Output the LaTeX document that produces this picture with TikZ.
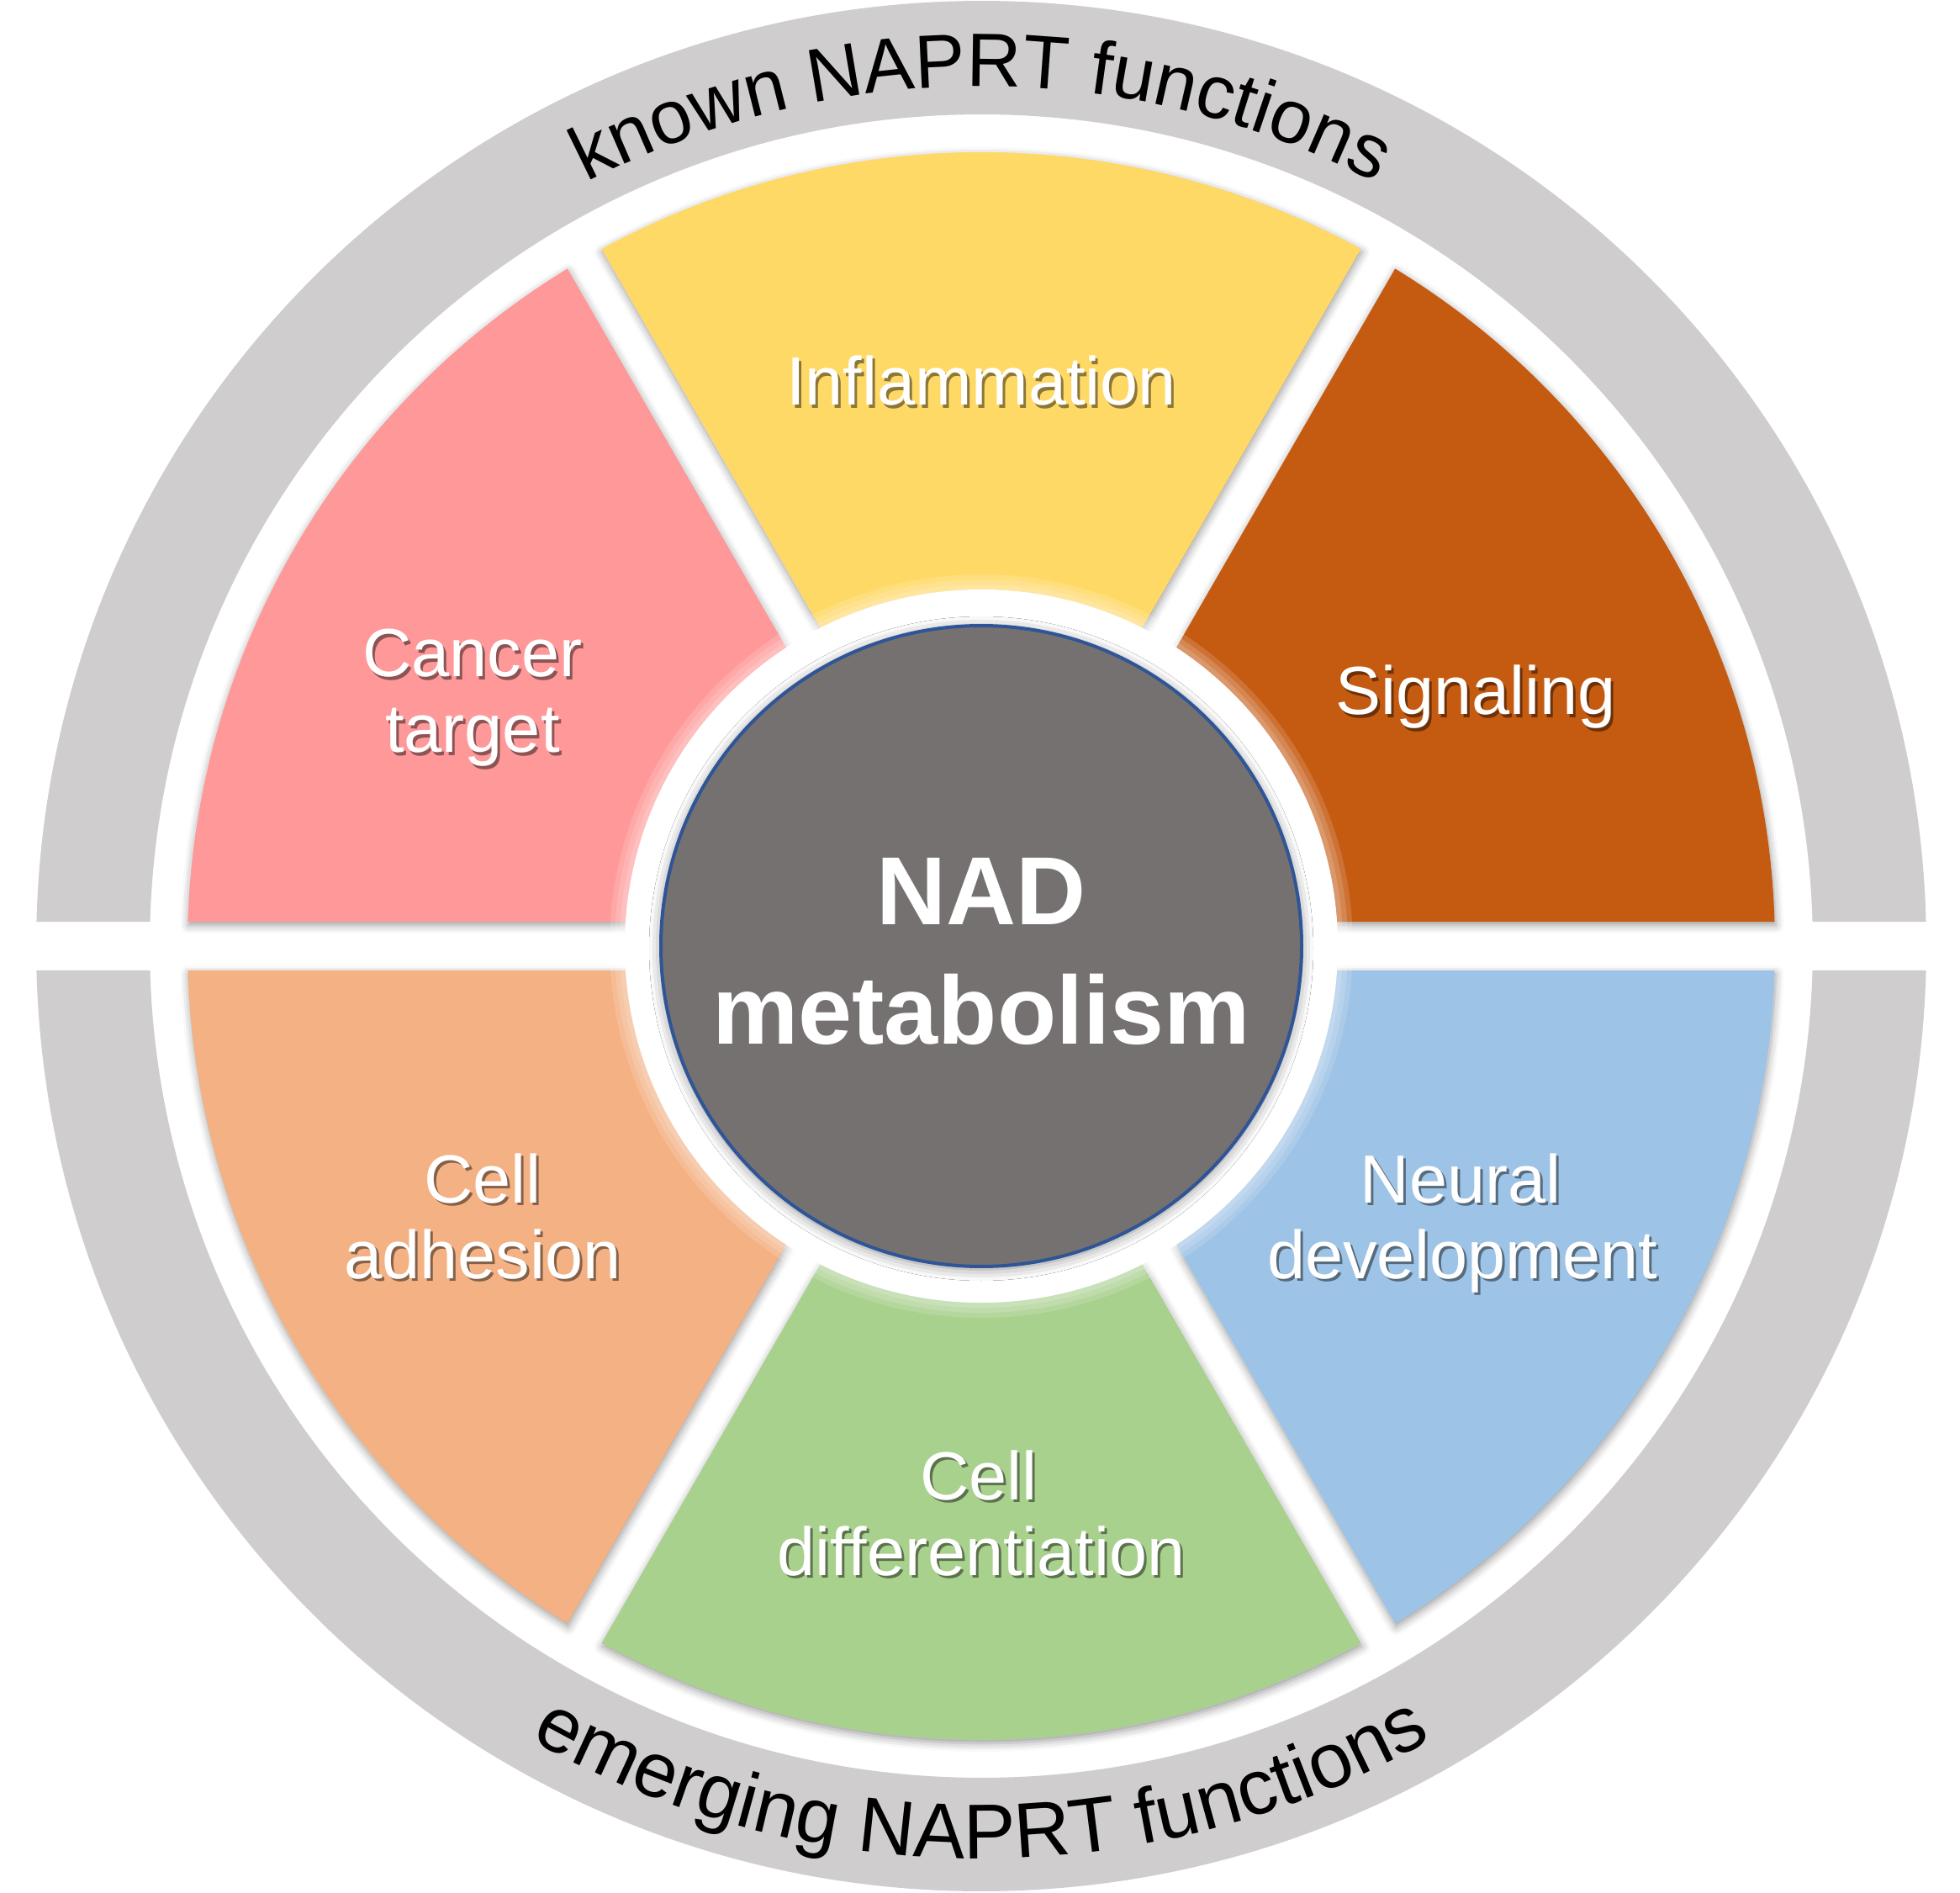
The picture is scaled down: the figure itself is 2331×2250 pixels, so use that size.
\documentclass[tikz,border=0pt]{standalone}
\usepackage{fontspec}
\setmainfont{Liberation Sans}
\usetikzlibrary{decorations.text,shadows.blur}
\definecolor{ringgray}{RGB}{207,205,206}
\definecolor{pinkc}{RGB}{255,153,153}
\definecolor{yellowc}{RGB}{255,217,102}
\definecolor{orangec}{RGB}{197,90,17}
\definecolor{peachc}{RGB}{244,177,131}
\definecolor{greenc}{RGB}{169,209,142}
\definecolor{bluec}{RGB}{157,195,230}
\definecolor{discgray}{RGB}{118,113,113}
\definecolor{discborder}{RGB}{47,85,151}
\newcommand{\curvefontA}{\fontsize{9.0mm}{10mm}\selectfont}
\newcommand{\curvefontB}{\fontsize{9.25mm}{10mm}\selectfont}
\newcommand{\ringsector}[5]{%
  \pgfmathsetmacro{\sA}{#1+asin(#3/944)}%
  \pgfmathsetmacro{\sB}{#2-asin(#4/944)}%
  \pgfmathsetmacro{\sC}{#2-asin(#4/424)}%
  \pgfmathsetmacro{\sD}{#1+asin(#3/424)}%
  \fill[#5, sectorshade] (\sA:944) arc[start angle=\sA, end angle=\sB, radius=944]
    -- (\sC:424) arc[start angle=\sC, end angle=\sD, radius=424] -- cycle;
}
\newcommand{\shlabel}[4]{%
  \node[lblsh] (#1s) at (#2,#3) {#4};
  \node[lbl] (#1) at (#2,#3) {#4};
}
\begin{document}
\begin{tikzpicture}[x=0.1mm,y=0.1mm,
  sectorshade/.style={blur shadow={shadow xshift=0.1mm, shadow yshift=-0.4mm, shadow blur radius=1mm, shadow opacity=40}},
  lbl/.style={text=white, font=\fontsize{8.1mm}{9mm}\selectfont, inner sep=0pt, anchor=base},
  lblsh/.style={lbl, text=black, text opacity=0.45, xshift=0.3mm, yshift=-0.35mm},
  nadtxt/.style={text=white, font=\bfseries\fontsize{11.5mm}{12mm}\selectfont, inner sep=0pt, anchor=base}]
\useasboundingbox (-1167,-1125) rectangle (1164,1125);
% outer gray ring (two halves)
\pgfmathsetmacro{\gdo}{asin(29/1124)}
\pgfmathsetmacro{\gdi}{asin(29/989)}
\pgfmathsetmacro{\gdoB}{180-\gdo}
\pgfmathsetmacro{\gdiB}{180-\gdi}
\pgfmathsetmacro{\gdoC}{180+\gdo}
\pgfmathsetmacro{\gdiC}{180+\gdi}
\pgfmathsetmacro{\gdoD}{360-\gdo}
\pgfmathsetmacro{\gdiD}{360-\gdi}
\fill[ringgray] (\gdo:1124) arc[start angle=\gdo, end angle=\gdoB, radius=1124]
  -- (\gdiB:989) arc[start angle=\gdiB, end angle=\gdi, radius=989] -- cycle;
\fill[ringgray] (\gdoC:1124) arc[start angle=\gdoC, end angle=\gdoD, radius=1124]
  -- (\gdiD:989) arc[start angle=\gdiD, end angle=\gdiC, radius=989] -- cycle;
% curved texts
\path[decorate, decoration={text along path, text align=center,
  text={|\curvefontA|known NAPRT functions}}]
  (150:1022) arc[start angle=150, end angle=30, radius=1022];
\path[decorate, decoration={text along path, text align=center,
  text={|\curvefontB|emerging NAPRT functions}}]
  (210:1085) arc[start angle=210, end angle=330, radius=1085];
% coloured sectors
\ringsector{0}{60}{29}{23.5}{orangec}
\ringsector{60}{120}{23.5}{23.5}{yellowc}
\ringsector{120}{180}{23.5}{29}{pinkc}
\ringsector{180}{240}{29}{23.5}{peachc}
\ringsector{240}{300}{23.5}{23.5}{greenc}
\ringsector{300}{360}{23.5}{29}{bluec}
% white glow around inner ring
\draw[white, opacity=0.15, line width=3.6mm] (0,0) circle[radius=424];
\draw[white, opacity=0.15, line width=2.4mm] (0,0) circle[radius=424];
\draw[white, opacity=0.15, line width=1.2mm] (0,0) circle[radius=424];
\fill[white] (0,0) circle[radius=424];
% central disc
\node[circle, fill=discgray, draw=discborder, line width=0.4mm, minimum size=76.2mm, inner sep=0pt,
  blur shadow={shadow xshift=0mm, shadow yshift=-0.3mm, shadow blur radius=1.4mm, shadow opacity=45}] (disc) at (0,0) {};
\node[nadtxt] (nad) at (0,25) {NAD};
\node[nadtxt] (metab) at (0,-116) {metabolism};
% sector labels
\shlabel{infl}{0}{643}{Inflammation}
\shlabel{cancer}{-605}{320}{Cancer}
\shlabel{target}{-605}{230}{target}
\shlabel{signal}{588}{275}{Signaling}
\shlabel{cella}{-593}{-305}{Cell}
\shlabel{adh}{-593}{-395}{adhesion}
\shlabel{neural}{570}{-305}{Neural}
\shlabel{devel}{572}{-395}{development}
\shlabel{celld}{-3}{-658}{Cell}
\shlabel{diff}{0}{-748}{differentiation}
\end{tikzpicture}
\end{document}
